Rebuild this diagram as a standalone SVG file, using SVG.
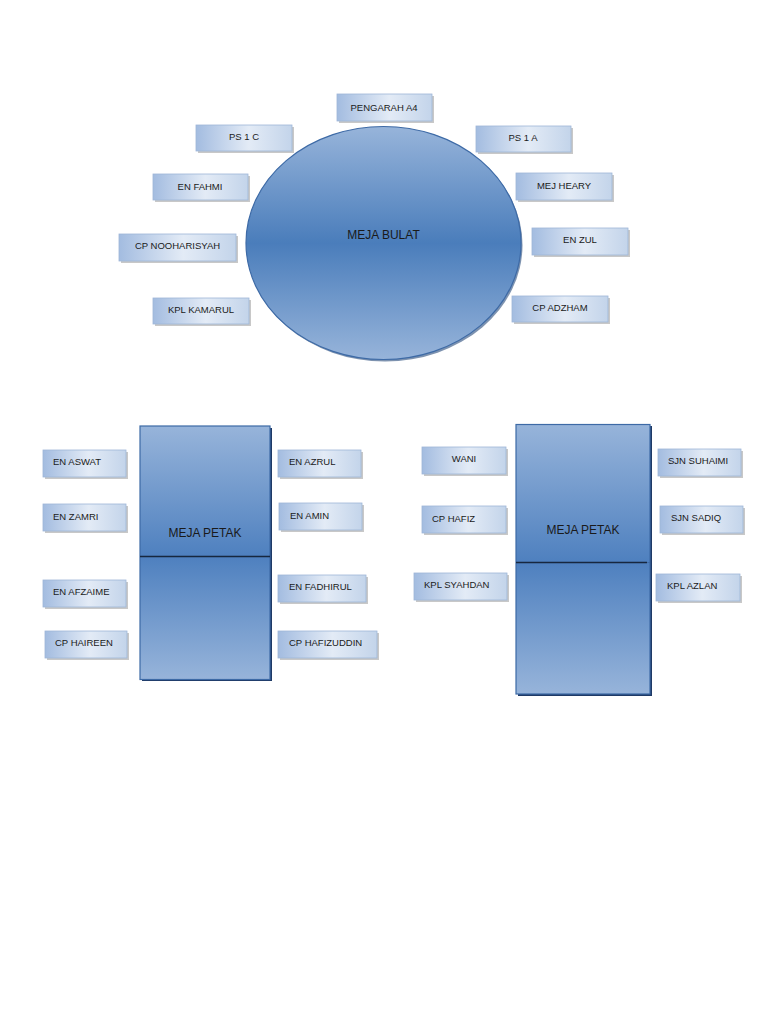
<svg xmlns="http://www.w3.org/2000/svg" width="768" height="1024" viewBox="0 0 768 1024">
<defs>
<linearGradient id="gBox" x1="0" y1="0" x2="1" y2="0">
<stop offset="0" stop-color="#a3bce0"/>
<stop offset="0.55" stop-color="#e3ebf6"/>
<stop offset="1" stop-color="#c3d4ea"/>
</linearGradient>
<linearGradient id="gVert" x1="0" y1="0" x2="0" y2="1">
<stop offset="0" stop-color="#97b4da"/>
<stop offset="0.5" stop-color="#4a7dbb"/>
<stop offset="1" stop-color="#97b4da"/>
</linearGradient>
<linearGradient id="gTop" x1="0" y1="0" x2="0" y2="1">
<stop offset="0" stop-color="#97b4da"/>
<stop offset="1" stop-color="#4e80bf"/>
</linearGradient>
<linearGradient id="gBot" x1="0" y1="0" x2="0" y2="1">
<stop offset="0" stop-color="#4e80bf"/>
<stop offset="1" stop-color="#97b4da"/>
</linearGradient>
</defs>
<style>
.box{fill:url(#gBox);stroke:#9fb6d8;stroke-width:0.8}
.sh{fill:#9a9a9a;opacity:0.55}
.t{font-family:"Liberation Sans",Arial,sans-serif;font-size:9.5px;fill:#1a1a1a}
.c{text-anchor:middle}
.big{font-family:"Liberation Sans",Arial,sans-serif;font-size:12px;fill:#1a1a1a;text-anchor:middle}
.tbl{stroke:#3d6aa6;stroke-width:1.2}
</style>
<rect width="768" height="1024" fill="#ffffff"/>

<g id="meja-bulat">
<ellipse cx="385" cy="245" rx="137.5" ry="116.5" fill="#274a7a" opacity="0.6"/>
<ellipse cx="383.5" cy="243" rx="137.5" ry="116.5" fill="url(#gVert)" class="tbl"/>
<text class="big" x="383.5" y="239">MEJA BULAT</text>
</g>

<g id="pengarah-a4"><rect class="sh" x="339" y="96" width="95" height="27"/><rect class="box" x="337" y="94" width="95" height="27"/><text class="t c" x="384" y="111">PENGARAH A4</text></g>
<g id="ps-1-c"><rect class="sh" x="198" y="127" width="96" height="26"/><rect class="box" x="196" y="125" width="96" height="26"/><text class="t c" x="244" y="140">PS 1 C</text></g>
<g id="ps-1-a"><rect class="sh" x="478" y="128" width="95" height="26"/><rect class="box" x="476" y="126" width="95" height="26"/><text class="t c" x="523" y="141">PS 1 A</text></g>
<g id="en-fahmi"><rect class="sh" x="155" y="176" width="95" height="26"/><rect class="box" x="153" y="174" width="95" height="26"/><text class="t c" x="200" y="190">EN FAHMI</text></g>
<g id="mej-heary"><rect class="sh" x="518" y="175" width="96" height="27"/><rect class="box" x="516" y="173" width="96" height="27"/><text class="t c" x="564" y="189">MEJ HEARY</text></g>
<g id="cp-nooharisyah"><rect class="sh" x="121" y="236" width="117" height="27"/><rect class="box" x="119" y="234" width="117" height="27"/><text class="t c" x="177.5" y="249">CP NOOHARISYAH</text></g>
<g id="en-zul"><rect class="sh" x="534" y="230" width="96" height="27"/><rect class="box" x="532" y="228" width="96" height="27"/><text class="t c" x="580" y="243">EN ZUL</text></g>
<g id="kpl-kamarul"><rect class="sh" x="155" y="300" width="96" height="26"/><rect class="box" x="153" y="298" width="96" height="26"/><text class="t c" x="201" y="313">KPL KAMARUL</text></g>
<g id="cp-adzham"><rect class="sh" x="514" y="298" width="96" height="26"/><rect class="box" x="512" y="296" width="96" height="26"/><text class="t c" x="560" y="311">CP ADZHAM</text></g>

<g id="meja-petak-1">
<rect x="142" y="428" width="130" height="253" fill="#1f3a66"/>
<rect x="140" y="426" width="130" height="130.5" fill="url(#gTop)"/>
<rect x="140" y="556.5" width="130" height="123" fill="url(#gBot)"/>
<rect x="140" y="426" width="130" height="253.5" fill="none" class="tbl"/>
<line x1="140" y1="556.5" x2="270" y2="556.5" stroke="#17273f" stroke-width="1.3"/>
<text class="big" x="205" y="537">MEJA PETAK</text>
</g>

<g id="en-aswat"><rect class="sh" x="45" y="452" width="83" height="27"/><rect class="box" x="43" y="450" width="83" height="27"/><text class="t" x="53" y="465">EN ASWAT</text></g>
<g id="en-zamri"><rect class="sh" x="45" y="506" width="83" height="27"/><rect class="box" x="43" y="504" width="83" height="27"/><text class="t" x="53" y="520">EN ZAMRI</text></g>
<g id="en-afzaime"><rect class="sh" x="45" y="582" width="83" height="27"/><rect class="box" x="43" y="580" width="83" height="27"/><text class="t" x="53" y="595">EN AFZAIME</text></g>
<g id="cp-haireen"><rect class="sh" x="47" y="633" width="82" height="27"/><rect class="box" x="45" y="631" width="82" height="27"/><text class="t" x="55" y="646">CP HAIREEN</text></g>
<g id="en-azrul"><rect class="sh" x="280" y="452" width="83" height="27"/><rect class="box" x="278" y="450" width="83" height="27"/><text class="t" x="289" y="465">EN AZRUL</text></g>
<g id="en-amin"><rect class="sh" x="281" y="505" width="83" height="27"/><rect class="box" x="279" y="503" width="83" height="27"/><text class="t" x="290" y="519">EN AMIN</text></g>
<g id="en-fadhirul"><rect class="sh" x="280" y="577" width="88" height="27"/><rect class="box" x="278" y="575" width="88" height="27"/><text class="t" x="289" y="590">EN FADHIRUL</text></g>
<g id="cp-hafizuddin"><rect class="sh" x="280" y="633" width="99" height="27"/><rect class="box" x="278" y="631" width="99" height="27"/><text class="t" x="289" y="646">CP HAFIZUDDIN</text></g>

<g id="meja-petak-2">
<rect x="518" y="426" width="134" height="270" fill="#1f3a66"/>
<rect x="516" y="424.5" width="134" height="138" fill="url(#gTop)"/>
<rect x="516" y="562.5" width="134" height="131.5" fill="url(#gBot)"/>
<rect x="516" y="424.5" width="134" height="269.5" fill="none" class="tbl"/>
<line x1="516" y1="562.5" x2="647" y2="562.5" stroke="#17273f" stroke-width="1.3"/>
<text class="big" x="583" y="534">MEJA PETAK</text>
</g>

<g id="wani"><rect class="sh" x="424" y="449" width="84" height="27"/><rect class="box" x="422" y="447" width="84" height="27"/><text class="t c" x="464" y="462">WANI</text></g>
<g id="cp-hafiz"><rect class="sh" x="424" y="508" width="84" height="27"/><rect class="box" x="422" y="506" width="84" height="27"/><text class="t" x="432" y="522">CP HAFIZ</text></g>
<g id="kpl-syahdan"><rect class="sh" x="416" y="575" width="93" height="27"/><rect class="box" x="414" y="573" width="93" height="27"/><text class="t" x="424" y="588">KPL SYAHDAN</text></g>
<g id="sjn-suhaimi"><rect class="sh" x="660" y="451" width="83" height="27"/><rect class="box" x="658" y="449" width="83" height="27"/><text class="t" x="668" y="464">SJN SUHAIMI</text></g>
<g id="sjn-sadiq"><rect class="sh" x="662" y="508" width="83" height="27"/><rect class="box" x="660" y="506" width="83" height="27"/><text class="t" x="671" y="521">SJN SADIQ</text></g>
<g id="kpl-azlan"><rect class="sh" x="658" y="576" width="84" height="27"/><rect class="box" x="656" y="574" width="84" height="27"/><text class="t" x="667" y="589">KPL AZLAN</text></g>

<g id="connectors"></g>
</svg>
